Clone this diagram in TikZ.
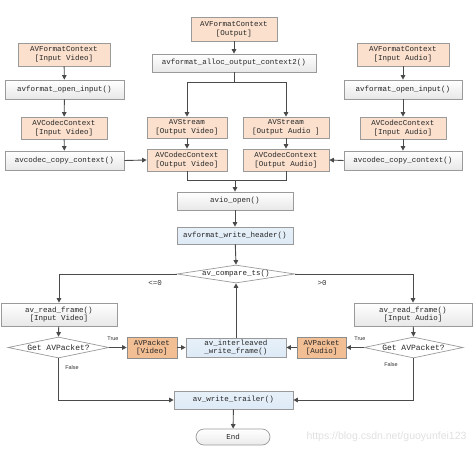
\documentclass[tikz,border=0pt]{standalone}
\usepackage{fontspec}
\usetikzlibrary{arrows.meta,shapes.geometric,calc}
\newfontfamily\monof{Liberation Mono}
\newfontfamily\sansf{Liberation Sans}
\definecolor{orfill}{HTML}{FBE0CD}
\definecolor{pkfill}{HTML}{F2BE94}
\definecolor{blfill}{HTML}{DDEAF6}
\definecolor{bord}{HTML}{9A9A9A}
\definecolor{lnc}{HTML}{4A4A4A}
\tikzset{
  base/.style={draw=bord, line width=0.7pt, inner sep=0pt, align=center, font=\monof\fontsize{7.5}{8.6}\selectfont, text=black!85},
  obox/.style={base, fill=orfill},
  pbox/.style={base, fill=pkfill, draw=black!45},
  gbox/.style={base, top color=white, bottom color=black!9},
  bbox/.style={base, top color=blfill!70, bottom color=blfill},
  dia/.style={base, diamond, fill=white, font=\monof\fontsize{8}{9}\selectfont},
  endbox/.style={base, rounded corners=8pt, top color=white, bottom color=black!8},
  arr/.style={draw=lnc, line width=0.9pt, -{Triangle[length=4.5pt,width=4.5pt]}},
  ln/.style={draw=lnc, line width=0.9pt},
  small/.style={font=\sansf\fontsize{5.5}{6}\selectfont, text=black!80},
  lab/.style={font=\monof\fontsize{7.5}{8}\selectfont, text=black!80}
}
\begin{document}
\begin{tikzpicture}[x=1pt,y=-1pt]
\useasboundingbox (0,0) rectangle (474,452);
% top
\node[obox, minimum width=86pt, minimum height=24pt] (outCtx) at (234,29) {AVFormatContext\\{[}Output{]}};
\node[gbox, minimum width=164pt, minimum height=18pt] (alloc) at (234,63) {avformat\_alloc\_output\_context2()};
% left column
\node[obox, minimum width=92pt, minimum height=23pt] (inV) at (64,54.5) {AVFormatContext\\{[}Input Video{]}};
\node[gbox, minimum width=119pt, minimum height=19pt] (openV) at (64.5,89.5) {avformat\_open\_input()};
\node[obox, minimum width=86pt, minimum height=22pt] (codecInV) at (64,128) {AVCodecContext\\{[}Input Video{]}};
\node[gbox, minimum width=119pt, minimum height=19pt] (copyV) at (64.5,160.5) {avcodec\_copy\_context()};
% middle
\node[obox, minimum width=80pt, minimum height=21pt] (streamV) at (187,127.5) {AVStream\\{[}Output Video{]}};
\node[obox, minimum width=80pt, minimum height=22pt] (codecOutV) at (187,160) {AVCodecContext\\{[}Output Video{]}};
\node[obox, minimum width=86pt, minimum height=21pt] (streamA) at (286,127.5) {AVStream\\{[}Output Audio {]}};
\node[obox, minimum width=86pt, minimum height=22pt] (codecOutA) at (286,160) {AVCodecContext\\{[}Output Audio{]}};
% right column
\node[obox, minimum width=92pt, minimum height=23pt] (inA) at (403,54.5) {AVFormatContext\\{[}Input Audio{]}};
\node[gbox, minimum width=118pt, minimum height=19pt] (openA) at (403,89.5) {avformat\_open\_input()};
\node[obox, minimum width=86pt, minimum height=22pt] (codecInA) at (403,128) {AVCodecContext\\{[}Input Audio{]}};
\node[gbox, minimum width=118pt, minimum height=19pt] (copyA) at (403,160.5) {avcodec\_copy\_context()};
% center flow
\node[gbox, minimum width=116pt, minimum height=18pt] (avio) at (235,201) {avio\_open()};
\node[bbox, minimum width=116pt, minimum height=17pt] (header) at (235,235.5) {avformat\_write\_header()};
\node[dia, aspect=6.5, minimum width=118pt, minimum height=18pt, font=\monof\fontsize{7.5}{8}\selectfont] (cmp) at (236,274) {av\_compare\_ts()};
\node[gbox, minimum width=116pt, minimum height=23pt] (readV) at (59,314.5) {av\_read\_frame()\\{[}Input Video{]}};
\node[gbox, minimum width=118pt, minimum height=23pt] (readA) at (413,314.5) {av\_read\_frame()\\{[}Input Audio{]}};
\node[dia, aspect=5, minimum width=101pt, minimum height=21pt] (getV) at (58.5,347.5) {Get AVPacket?};
\node[pbox, minimum width=50pt, minimum height=21pt] (pktV) at (152,347.5) {AVPacket\\{[}Video{]}};
\node[bbox, minimum width=100pt, minimum height=19pt, font=\monof\fontsize{7.5}{7.8}\selectfont] (inter) at (236,347.5) {av\_interleaved\\\_write\_frame()};
\node[pbox, minimum width=49pt, minimum height=21pt] (pktA) at (321.5,347.5) {AVPacket\\{[}Audio{]}};
\node[dia, aspect=5, minimum width=99pt, minimum height=21pt] (getA) at (413.5,347.5) {Get AVPacket?};
\node[bbox, minimum width=119pt, minimum height=18pt] (trailer) at (233.5,400) {av\_write\_trailer()};
\node[endbox, minimum width=74pt, minimum height=16pt] (end) at (233,437) {End};
% watermark
\node[font=\sansf\fontsize{10.5}{11}\selectfont, text=black!12, anchor=east] (wm) at (470,437) {https://blog.csdn.net/guoyunfei123};
% connectors
\draw[arr] (outCtx) -- (alloc);
\coordinate (split) at (234,82);
\draw[ln] (alloc.south) -- (split);
\draw[arr] (split) -| (streamV.north);
\draw[arr] (split) -| (streamA.north);
\draw[arr] (inV) -- (openV);
\draw[arr] (openV) -- (codecInV);
\draw[arr] (codecInV) -- (copyV);
\draw[arr] (inA) -- (openA);
\draw[arr] (openA) -- (codecInA);
\draw[arr] (codecInA) -- (copyA);
\draw[arr] (streamV) -- (codecOutV);
\draw[arr] (streamA) -- (codecOutA);
\draw[arr] (copyV.east) -- (codecOutV.west);
\draw[arr] (copyA.west) -- (codecOutA.east);
\coordinate (join) at (235,180);
\draw[ln] (codecOutV.south) |- (join);
\draw[ln] (codecOutA.south) |- (join);
\draw[arr] (join) -- (avio.north);
\draw[arr] (avio) -- (header);
\draw[arr] (header) -- (cmp.north);
\draw[arr] (cmp.west) -| (readV.north);
\draw[arr] (cmp.east) -| (readA.north);
\node[lab] (le) at (155,283) {<=0};
\node[lab] (gt) at (322,283) {>0};
\draw[arr] (readV) -- (getV.north);
\draw[arr] (readA) -- (getA.north);
\draw[arr] (getV.east) -- (pktV.west);
\draw[arr] (getA.west) -- (pktA.east);
\node[small] (tV) at (113,339) {True};
\node[small] (tA) at (360,339) {True};
\draw[arr] (pktV.east) -- (inter.west);
\draw[arr] (pktA.west) -- (inter.east);
\draw[arr] (inter.north) -- (cmp.south);
\draw[arr] (getV.south) |- (trailer.west);
\draw[arr] (getA.south) |- (trailer.east);
\node[small] (fV) at (72,368) {False};
\node[small] (fA) at (391,365) {False};
\draw[arr] (trailer) -- (end);
\end{tikzpicture}
\end{document}
